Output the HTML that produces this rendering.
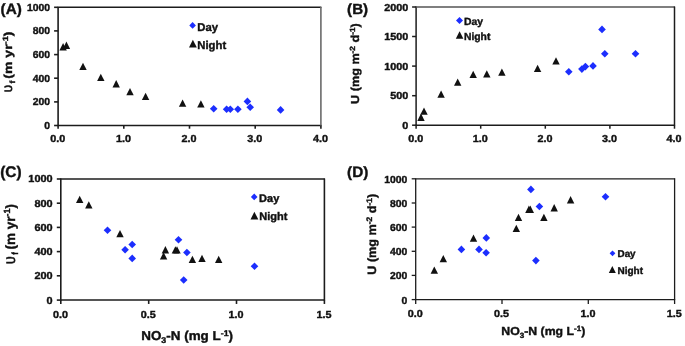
<!DOCTYPE html>
<html><head><meta charset="utf-8"><title>Figure</title>
<style>
html,body{margin:0;padding:0;background:#fff;}
svg{display:block;font-family:"Liberation Sans",sans-serif;font-weight:bold;fill:#111;}
.ax{stroke:#1c1c1c;fill:none;}
text{stroke:#111;stroke-width:0.4px;text-rendering:geometricPrecision;}
</style></head><body>
<svg width="685" height="346" viewBox="0 0 685 346">
<rect width="685" height="346" fill="#fff"/>
<g style="filter:blur(0.55px)">
<g style="stroke-width:1.6">
<path class="ax" d="M58.1 6.8999999999999995V125.9"/>
<path class="ax" d="M57.6 125.5H321.4"/>
<path class="ax" d="M57.6 7.3H321.4"/>
<path class="ax" d="M320.9 6.8999999999999995V125.9" style="stroke:#6a6a6a"/>
<path class="ax" d="M54.1 125.5H58.1"/>
<text x="50.1" y="128.85" text-anchor="end" font-size="10.2" transform="translate(50.1 0) scale(1.02 1) translate(-50.1 0)">0</text>
<path class="ax" d="M54.1 101.9H58.1"/>
<text x="50.1" y="105.21" text-anchor="end" font-size="10.2" transform="translate(50.1 0) scale(1.02 1) translate(-50.1 0)">200</text>
<path class="ax" d="M54.1 78.2H58.1"/>
<text x="50.1" y="81.57" text-anchor="end" font-size="10.2" transform="translate(50.1 0) scale(1.02 1) translate(-50.1 0)">400</text>
<path class="ax" d="M54.1 54.6H58.1"/>
<text x="50.1" y="57.93" text-anchor="end" font-size="10.2" transform="translate(50.1 0) scale(1.02 1) translate(-50.1 0)">600</text>
<path class="ax" d="M54.1 30.9H58.1"/>
<text x="50.1" y="34.29" text-anchor="end" font-size="10.2" transform="translate(50.1 0) scale(1.02 1) translate(-50.1 0)">800</text>
<path class="ax" d="M54.1 7.3H58.1"/>
<text x="50.1" y="10.65" text-anchor="end" font-size="10.2" transform="translate(50.1 0) scale(1.02 1) translate(-50.1 0)">1000</text>
<path class="ax" d="M58.1 125.5V128.7"/>
<text x="57.7" y="142.4" text-anchor="middle" font-size="10.2" transform="translate(57.7 0) scale(1.06 1) translate(-57.7 0)">0.0</text>
<path class="ax" d="M123.8 125.5V128.7"/>
<text x="123.4" y="142.4" text-anchor="middle" font-size="10.2" transform="translate(123.4 0) scale(1.06 1) translate(-123.4 0)">1.0</text>
<path class="ax" d="M189.5 125.5V128.7"/>
<text x="189.1" y="142.4" text-anchor="middle" font-size="10.2" transform="translate(189.1 0) scale(1.06 1) translate(-189.1 0)">2.0</text>
<path class="ax" d="M255.2 125.5V128.7"/>
<text x="254.8" y="142.4" text-anchor="middle" font-size="10.2" transform="translate(254.8 0) scale(1.06 1) translate(-254.8 0)">3.0</text>
<path class="ax" d="M320.9 125.5V128.7"/>
<text x="320.5" y="142.4" text-anchor="middle" font-size="10.2" transform="translate(320.5 0) scale(1.06 1) translate(-320.5 0)">4.0</text>
</g>
<path d="M59.4 50.4L63.1 43.1L66.8 50.4Z" fill="#111"/>
<path d="M62.7 48.9L66.4 41.6L70.1 48.9Z" fill="#111"/>
<path d="M79.3 70.0L83.0 62.7L86.7 70.0Z" fill="#111"/>
<path d="M97.1 81.1L100.8 73.8L104.5 81.1Z" fill="#111"/>
<path d="M112.5 87.4L116.2 80.1L119.9 87.4Z" fill="#111"/>
<path d="M126.3 95.2L130.0 87.9L133.7 95.2Z" fill="#111"/>
<path d="M141.9 100.0L145.6 92.7L149.3 100.0Z" fill="#111"/>
<path d="M178.9 106.8L182.6 99.5L186.3 106.8Z" fill="#111"/>
<path d="M197.2 107.5L200.9 100.2L204.6 107.5Z" fill="#111"/>
<path d="M209.9 108.7L213.7 104.9L217.5 108.7L213.7 112.5Z" fill="#1c2efe"/>
<path d="M222.8 109.2L226.6 105.4L230.4 109.2L226.6 113.0Z" fill="#1c2efe"/>
<path d="M226.5 109.2L230.3 105.4L234.1 109.2L230.3 113.0Z" fill="#1c2efe"/>
<path d="M234.1 109.2L237.9 105.4L241.7 109.2L237.9 113.0Z" fill="#1c2efe"/>
<path d="M243.6 101.4L247.4 97.6L251.2 101.4L247.4 105.2Z" fill="#1c2efe"/>
<path d="M246.4 107.2L250.2 103.4L254.0 107.2L250.2 111.0Z" fill="#1c2efe"/>
<path d="M276.8 109.9L280.6 106.1L284.4 109.9L280.6 113.7Z" fill="#1c2efe"/>
<path d="M189.3 25.4L192.6 22.1L195.9 25.4L192.6 28.7Z" fill="#1c2efe"/>
<text x="197.3" y="30.7" font-size="11.3">Day</text>
<path d="M189.0 47.4L192.9 39.7L196.8 47.4Z" fill="#111"/>
<text x="197.3" y="48.5" font-size="11.3">Night</text>
<text font-size="15" transform="translate(0.6 14.0) scale(1.02 1)">(A)</text>
<g transform="translate(11.7 92.5) rotate(-90)">
<text font-size="13.80" transform="scale(1.021 1)" style="font-weight:normal;stroke-width:0.5px">υ</text>
<text font-size="7.59" transform="translate(8.9 2.99) scale(1.098 1)">f</text>
<text font-size="11.5" transform="translate(13.8 0) scale(1.220 1)">(m yr<tspan font-size="7.59" dy="-4.14">-1</tspan><tspan dy="4.14">)</tspan></text>
</g>
<g style="stroke-width:1.5">
<path class="ax" d="M416.1 6.6V125.60000000000001"/>
<path class="ax" d="M415.6 125.2H675.0"/>
<path class="ax" d="M415.6 7.0H675.0" style="stroke:#555"/>
<path class="ax" d="M674.5 6.6V125.60000000000001"/>
<path class="ax" d="M412.1 125.2H416.1"/>
<text x="408.2" y="128.95" text-anchor="end" font-size="10.2" transform="translate(408.2 0) scale(1.06 1) translate(-408.2 0)">0</text>
<path class="ax" d="M412.1 95.7H416.1"/>
<text x="408.2" y="99.40" text-anchor="end" font-size="10.2" transform="translate(408.2 0) scale(1.06 1) translate(-408.2 0)">500</text>
<path class="ax" d="M412.1 66.1H416.1"/>
<text x="408.2" y="69.85" text-anchor="end" font-size="10.2" transform="translate(408.2 0) scale(1.06 1) translate(-408.2 0)">1000</text>
<path class="ax" d="M412.1 36.5H416.1"/>
<text x="408.2" y="40.30" text-anchor="end" font-size="10.2" transform="translate(408.2 0) scale(1.06 1) translate(-408.2 0)">1500</text>
<path class="ax" d="M412.1 7.0H416.1"/>
<text x="408.2" y="10.75" text-anchor="end" font-size="10.2" transform="translate(408.2 0) scale(1.06 1) translate(-408.2 0)">2000</text>
<path class="ax" d="M416.1 125.2V128.7"/>
<text x="415.7" y="141.5" text-anchor="middle" font-size="10.2" transform="translate(415.7 0) scale(1.06 1) translate(-415.7 0)">0.0</text>
<path class="ax" d="M480.7 125.2V128.7"/>
<text x="480.3" y="141.5" text-anchor="middle" font-size="10.2" transform="translate(480.3 0) scale(1.06 1) translate(-480.3 0)">1.0</text>
<path class="ax" d="M545.3 125.2V128.7"/>
<text x="544.9" y="141.5" text-anchor="middle" font-size="10.2" transform="translate(544.9 0) scale(1.06 1) translate(-544.9 0)">2.0</text>
<path class="ax" d="M609.9 125.2V128.7"/>
<text x="609.5" y="141.5" text-anchor="middle" font-size="10.2" transform="translate(609.5 0) scale(1.06 1) translate(-609.5 0)">3.0</text>
<path class="ax" d="M674.5 125.2V128.7"/>
<text x="674.1" y="141.5" text-anchor="middle" font-size="10.2" transform="translate(674.1 0) scale(1.06 1) translate(-674.1 0)">4.0</text>
</g>
<path d="M417.3 120.9L421.0 113.6L424.7 120.9Z" fill="#111"/>
<path d="M420.3 114.8L424.0 107.5L427.7 114.8Z" fill="#111"/>
<path d="M437.4 97.7L441.1 90.4L444.8 97.7Z" fill="#111"/>
<path d="M454.0 85.7L457.7 78.4L461.4 85.7Z" fill="#111"/>
<path d="M469.5 78.1L473.2 70.8L476.9 78.1Z" fill="#111"/>
<path d="M483.1 77.6L486.8 70.3L490.5 77.6Z" fill="#111"/>
<path d="M498.2 75.8L501.9 68.5L505.6 75.8Z" fill="#111"/>
<path d="M533.9 72.0L537.6 64.7L541.3 72.0Z" fill="#111"/>
<path d="M552.3 64.5L556.0 57.2L559.7 64.5Z" fill="#111"/>
<path d="M565.0 71.7L568.8 67.9L572.6 71.7L568.8 75.5Z" fill="#1c2efe"/>
<path d="M578.1 69.1L581.9 65.3L585.7 69.1L581.9 72.9Z" fill="#1c2efe"/>
<path d="M581.6 66.6L585.4 62.8L589.2 66.6L585.4 70.4Z" fill="#1c2efe"/>
<path d="M589.2 65.9L593.0 62.1L596.8 65.9L593.0 69.7Z" fill="#1c2efe"/>
<path d="M598.2 29.4L602.0 25.6L605.8 29.4L602.0 33.2Z" fill="#1c2efe"/>
<path d="M601.0 53.8L604.8 50.0L608.6 53.8L604.8 57.6Z" fill="#1c2efe"/>
<path d="M631.7 53.8L635.5 50.0L639.3 53.8L635.5 57.6Z" fill="#1c2efe"/>
<path d="M456.0 20.6L459.5 17.1L463.0 20.6L459.5 24.1Z" fill="#1c2efe"/>
<text x="464.0" y="24.7" font-size="10.4">Day</text>
<path d="M455.8 38.8L459.6 31.3L463.4 38.8Z" fill="#111"/>
<text x="464.0" y="39.7" font-size="10.3">Night</text>
<text font-size="14.7" transform="translate(347.1 14.0) scale(1.03 1)">(B)</text>
<text font-size="11.5" text-anchor="middle" transform="translate(359.2 63.6) rotate(-90) scale(1.1 1)">U (mg m<tspan font-size="7.5" dy="-4">-2</tspan><tspan dy="4"> d</tspan><tspan font-size="7.5" dy="-4">-1</tspan><tspan dy="4">)</tspan></text>
<g style="stroke-width:1.6">
<path class="ax" d="M60.8 178.6V300.45"/>
<path class="ax" d="M60.3 300.05H324.9"/>
<path class="ax" d="M60.3 179.0H324.9"/>
<path class="ax" d="M324.4 178.6V300.45"/>
<path class="ax" d="M56.8 300.1H60.8"/>
<text x="52.6" y="303.50" text-anchor="end" font-size="10.2" transform="translate(52.6 0) scale(1.07 1) translate(-52.6 0)">0</text>
<path class="ax" d="M56.8 275.8H60.8"/>
<text x="52.6" y="279.29" text-anchor="end" font-size="10.2" transform="translate(52.6 0) scale(1.07 1) translate(-52.6 0)">200</text>
<path class="ax" d="M56.8 251.6H60.8"/>
<text x="52.6" y="255.08" text-anchor="end" font-size="10.2" transform="translate(52.6 0) scale(1.07 1) translate(-52.6 0)">400</text>
<path class="ax" d="M56.8 227.4H60.8"/>
<text x="52.6" y="230.87" text-anchor="end" font-size="10.2" transform="translate(52.6 0) scale(1.07 1) translate(-52.6 0)">600</text>
<path class="ax" d="M56.8 203.2H60.8"/>
<text x="52.6" y="206.66" text-anchor="end" font-size="10.2" transform="translate(52.6 0) scale(1.07 1) translate(-52.6 0)">800</text>
<path class="ax" d="M56.8 179.0H60.8"/>
<text x="52.6" y="182.45" text-anchor="end" font-size="10.2" transform="translate(52.6 0) scale(1.07 1) translate(-52.6 0)">1000</text>
<path class="ax" d="M60.8 300.05V303.95"/>
<text x="60.4" y="318.4" text-anchor="middle" font-size="10.2" transform="translate(60.4 0) scale(1.06 1) translate(-60.4 0)">0.0</text>
<path class="ax" d="M148.7 300.05V303.95"/>
<text x="148.3" y="318.4" text-anchor="middle" font-size="10.2" transform="translate(148.3 0) scale(1.06 1) translate(-148.3 0)">0.5</text>
<path class="ax" d="M236.5 300.05V303.95"/>
<text x="236.1" y="318.4" text-anchor="middle" font-size="10.2" transform="translate(236.1 0) scale(1.06 1) translate(-236.1 0)">1.0</text>
<path class="ax" d="M324.4 300.05V303.95"/>
<text x="324.0" y="318.4" text-anchor="middle" font-size="10.2" transform="translate(324.0 0) scale(1.06 1) translate(-324.0 0)">1.5</text>
</g>
<path d="M76.0 203.1L79.7 195.8L83.4 203.1Z" fill="#111"/>
<path d="M85.1 208.6L88.8 201.3L92.5 208.6Z" fill="#111"/>
<path d="M116.3 237.2L120.0 229.9L123.7 237.2Z" fill="#111"/>
<path d="M161.7 253.4L165.4 246.1L169.1 253.4Z" fill="#111"/>
<path d="M159.9 259.6L163.6 252.3L167.3 259.6Z" fill="#111"/>
<path d="M171.7 253.6L175.4 246.3L179.1 253.6Z" fill="#111"/>
<path d="M173.3 253.6L177.0 246.3L180.7 253.6Z" fill="#111"/>
<path d="M188.7 263.1L192.4 255.8L196.1 263.1Z" fill="#111"/>
<path d="M198.3 262.0L202.0 254.7L205.7 262.0Z" fill="#111"/>
<path d="M215.0 263.1L218.7 255.8L222.4 263.1Z" fill="#111"/>
<path d="M103.7 230.3L107.5 226.5L111.3 230.3L107.5 234.1Z" fill="#1c2efe"/>
<path d="M121.3 249.7L125.1 245.9L128.9 249.7L125.1 253.5Z" fill="#1c2efe"/>
<path d="M128.4 244.5L132.2 240.7L136.0 244.5L132.2 248.3Z" fill="#1c2efe"/>
<path d="M128.4 258.4L132.2 254.6L136.0 258.4L132.2 262.2Z" fill="#1c2efe"/>
<path d="M174.7 239.8L178.5 236.0L182.3 239.8L178.5 243.6Z" fill="#1c2efe"/>
<path d="M183.1 252.5L186.9 248.7L190.7 252.5L186.9 256.3Z" fill="#1c2efe"/>
<path d="M179.9 280.0L183.7 276.2L187.5 280.0L183.7 283.8Z" fill="#1c2efe"/>
<path d="M250.7 266.2L254.5 262.4L258.3 266.2L254.5 270.0Z" fill="#1c2efe"/>
<path d="M250.9 196.9L254.2 193.6L257.5 196.9L254.2 200.2Z" fill="#1c2efe"/>
<text x="259.1" y="202" font-size="11">Day</text>
<path d="M250.5 219.4L254.4 211.7L258.3 219.4Z" fill="#111"/>
<text x="259.2" y="220.3" font-size="11">Night</text>
<text font-size="15.4" transform="translate(0.2 176.7) scale(1.0 1)">(C)</text>
<g transform="translate(14.5 264.3) rotate(-90)">
<text font-size="16.20" transform="scale(0.912 1)" style="font-weight:normal;stroke-width:0.5px">υ</text>
<text font-size="8.91" transform="translate(9.5 3.51) scale(0.900 1)">f</text>
<text font-size="13.5" transform="translate(14.9 0) scale(1.000 1)">(m yr<tspan font-size="8.91" dy="-4.86">-1</tspan><tspan dy="4.86">)</tspan></text>
</g>
<text font-size="12.8" transform="translate(141.2 340.3) scale(1.05 1)">NO<tspan font-size="8.4" dy="3">3</tspan><tspan dy="-3">-N (mg L</tspan><tspan font-size="8.4" dy="-4.6">-1</tspan><tspan dy="4.6">)</tspan></text>
<g style="stroke-width:1.3">
<path class="ax" d="M415.7 178.4V300.0"/>
<path class="ax" d="M415.2 299.6H675.1"/>
<path class="ax" d="M415.2 178.8H675.1"/>
<path class="ax" d="M674.6 178.4V300.0"/>
<path class="ax" d="M411.7 299.6H415.7"/>
<text x="407.3" y="303.65" text-anchor="end" font-size="10.2" transform="translate(407.3 0) scale(1.02 1) translate(-407.3 0)">0</text>
<path class="ax" d="M411.7 275.4H415.7"/>
<text x="407.3" y="279.49" text-anchor="end" font-size="10.2" transform="translate(407.3 0) scale(1.02 1) translate(-407.3 0)">200</text>
<path class="ax" d="M411.7 251.3H415.7"/>
<text x="407.3" y="255.33" text-anchor="end" font-size="10.2" transform="translate(407.3 0) scale(1.02 1) translate(-407.3 0)">400</text>
<path class="ax" d="M411.7 227.1H415.7"/>
<text x="407.3" y="231.17" text-anchor="end" font-size="10.2" transform="translate(407.3 0) scale(1.02 1) translate(-407.3 0)">600</text>
<path class="ax" d="M411.7 203.0H415.7"/>
<text x="407.3" y="207.01" text-anchor="end" font-size="10.2" transform="translate(407.3 0) scale(1.02 1) translate(-407.3 0)">800</text>
<path class="ax" d="M411.7 178.8H415.7"/>
<text x="407.3" y="182.85" text-anchor="end" font-size="10.2" transform="translate(407.3 0) scale(1.02 1) translate(-407.3 0)">1000</text>
<path class="ax" d="M415.7 299.6V304.0"/>
<text x="415.3" y="316.6" text-anchor="middle" font-size="10.2" transform="translate(415.3 0) scale(1.06 1) translate(-415.3 0)">0.0</text>
<path class="ax" d="M502.0 299.6V304.0"/>
<text x="501.6" y="316.6" text-anchor="middle" font-size="10.2" transform="translate(501.6 0) scale(1.06 1) translate(-501.6 0)">0.5</text>
<path class="ax" d="M588.3 299.6V304.0"/>
<text x="587.9" y="316.6" text-anchor="middle" font-size="10.2" transform="translate(587.9 0) scale(1.06 1) translate(-587.9 0)">1.0</text>
<path class="ax" d="M674.6 299.6V304.0"/>
<text x="674.2" y="316.6" text-anchor="middle" font-size="10.2" transform="translate(674.2 0) scale(1.06 1) translate(-674.2 0)">1.5</text>
</g>
<path d="M430.6 273.8L434.3 266.5L438.0 273.8Z" fill="#111"/>
<path d="M439.6 262.2L443.3 254.9L447.0 262.2Z" fill="#111"/>
<path d="M469.8 241.8L473.5 234.5L477.2 241.8Z" fill="#111"/>
<path d="M512.6 232.0L516.3 224.7L520.0 232.0Z" fill="#111"/>
<path d="M514.8 221.0L518.5 213.7L522.2 221.0Z" fill="#111"/>
<path d="M525.2 212.9L528.9 205.6L532.6 212.9Z" fill="#111"/>
<path d="M526.6 212.9L530.3 205.6L534.0 212.9Z" fill="#111"/>
<path d="M540.2 221.0L543.9 213.7L547.6 221.0Z" fill="#111"/>
<path d="M550.5 211.4L554.2 204.1L557.9 211.4Z" fill="#111"/>
<path d="M566.9 203.4L570.6 196.1L574.3 203.4Z" fill="#111"/>
<path d="M457.6 249.4L461.4 245.6L465.2 249.4L461.4 253.2Z" fill="#1c2efe"/>
<path d="M475.2 249.4L479.0 245.6L482.8 249.4L479.0 253.2Z" fill="#1c2efe"/>
<path d="M482.3 252.7L486.1 248.9L489.9 252.7L486.1 256.5Z" fill="#1c2efe"/>
<path d="M482.5 237.9L486.3 234.1L490.1 237.9L486.3 241.7Z" fill="#1c2efe"/>
<path d="M527.1 189.4L530.9 185.6L534.7 189.4L530.9 193.2Z" fill="#1c2efe"/>
<path d="M535.6 206.5L539.4 202.7L543.2 206.5L539.4 210.3Z" fill="#1c2efe"/>
<path d="M601.7 196.7L605.5 192.9L609.3 196.7L605.5 200.5Z" fill="#1c2efe"/>
<path d="M532.1 260.6L535.9 256.8L539.7 260.6L535.9 264.4Z" fill="#1c2efe"/>
<path d="M609.6 253.3L612.5 250.4L615.4 253.3L612.5 256.2Z" fill="#1c2efe"/>
<text x="617.5" y="257.4" font-size="9.9">Day</text>
<path d="M608.8 272.9L612.3 266.0L615.8 272.9Z" fill="#111"/>
<text x="617.5" y="274.2" font-size="10">Night</text>
<text font-size="15" transform="translate(347.1 176.9) scale(1.02 1)">(D)</text>
<text font-size="12" text-anchor="middle" transform="translate(375.8 234.3) rotate(-90) scale(1.05 1)">U (mg m<tspan font-size="8" dy="-4.2">-2</tspan><tspan dy="4.2"> d</tspan><tspan font-size="8" dy="-4.2">-1</tspan><tspan dy="4">)</tspan></text>
<text font-size="11.6" transform="translate(501.3 335.0) scale(1.06 1)">NO<tspan font-size="7.6" dy="2.8">3</tspan><tspan dy="-2.8">-N (mg L</tspan><tspan font-size="7.6" dy="-4.2">-1</tspan><tspan dy="4.2">)</tspan></text>
</g></svg></body></html>
